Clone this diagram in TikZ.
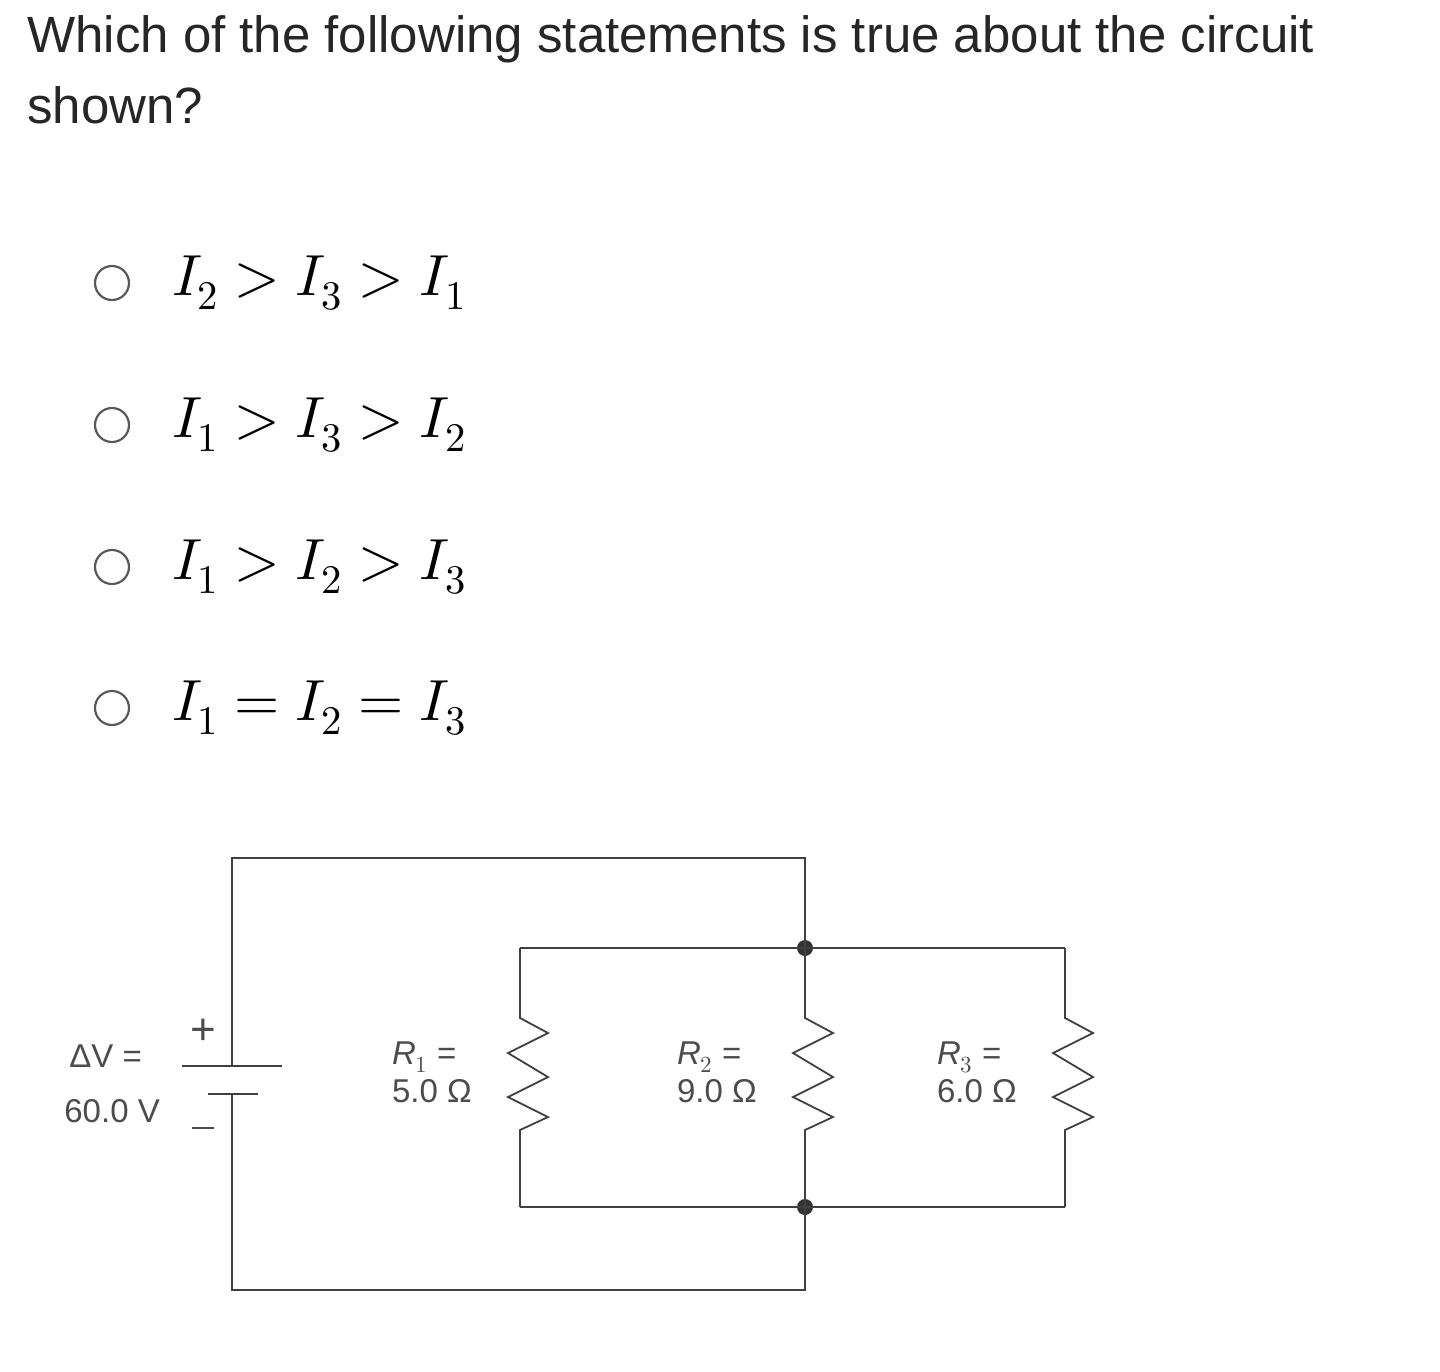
\documentclass[tikz,border=0pt]{standalone}
\usepackage{fontspec}
\setmainfont{Liberation Sans}
\usepackage{unicode-math}
\setmathfont{Latin Modern Math}
\usetikzlibrary{positioning}
\tikzset{
  wire/.style={line width=2pt,draw=black!75},
  radio/.style={circle,draw=black!65,line width=2.2pt,minimum size=34pt,inner sep=0pt},
  opt/.style={anchor=west,inner sep=0pt,font=\fontsize{58}{60}\selectfont},
  lbl/.style={inner sep=0pt,text=black!70,align=left,font=\fontsize{33}{38}\selectfont},
  jdot/.style={circle,fill=black!80,inner sep=0pt,minimum size=16pt}
}
\begin{document}
\begin{tikzpicture}[x=1pt,y=-1pt]
	\useasboundingbox (0,0) rectangle (1440,1371);
	% question
	\node(q1) [anchor=base west,inner sep=0pt,text=black!85,font=\fontsize{51}{55}\selectfont] at (27,52) {Which of the following statements is true about the circuit};
	\node(q2) [anchor=base west,inner sep=0pt,text=black!85,font=\fontsize{51}{55}\selectfont] at (27,123) {shown?};
	% answer options
	\foreach \y/\txt [count=\i] in {283/{I_2>I_3>I_1},425/{I_1>I_3>I_2},567/{I_1>I_2>I_3},708/{I_1=I_2=I_3}}{
		\node(r\i) [radio] at (112,\y) {};
		\node(o\i) [opt] at (172,\y) {$\txt$};
	}
	% circuit corners
	\coordinate(tl) at (232,858);
	\coordinate(tr) at (805,858);
	\coordinate(bl) at (232,1290);
	\coordinate(br) at (805,1290);
	\coordinate(bp) at (232,1066);
	\coordinate(bn) at (232,1094);
	\node(jt) [jdot] at (805,948) {};
	\node(jb) [jdot] at (805,1207) {};
	\coordinate(t1) at (520,948);
	\coordinate(b1) at (520,1207);
	\coordinate(t3) at (1065,948);
	\coordinate(b3) at (1065,1207);
	% wires
	\draw[wire] (bp) -- (tl) -- (tr) -- (jt.center);
	\draw[wire] (bn) -- (bl) -- (br) -- (jb.center);
	\draw[wire] (t1) -- (t3);
	\draw[wire] (b1) -- (b3);
	% battery
	\draw[wire] (182,1066) -- (282,1066);
	\draw[wire] (208,1094) -- (258,1094);
	\node(plus) [lbl,font=\fontsize{44}{44}\selectfont] at (203,1032) {+};
	\node(minus) [lbl] at (203,1128) {\rule{22pt}{2.2pt}};
	\node(dv) [lbl,anchor=east] at (142,1056) {ΔV =};
	\node(dvv) [lbl,anchor=east] at (160,1111) {60.0 V};
	% resistors
	\foreach \x/\n/\v in {520/1/5.0,805/2/9.0,1065/3/6.0}{
		\draw[wire,line width=1.8pt] (\x,948) -- (\x,1018) -- ++(28,15) -- ++(-40,20) -- ++(40,24) -- ++(-40,20) -- ++(40,20) -- ++(-28,13) -- (\x,1207);
		\node(rl\n) [lbl,anchor=east] at (\x-48,1072) {\textit{R}$_{\n}$ =\\\v\ Ω};
	}
\end{tikzpicture}
\end{document}
